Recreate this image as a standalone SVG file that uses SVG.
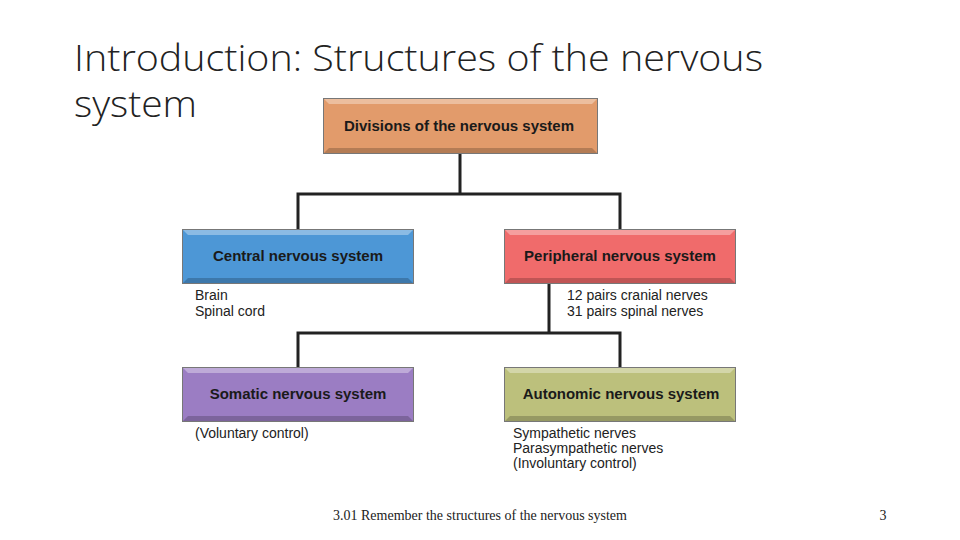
<svg xmlns="http://www.w3.org/2000/svg" width="960" height="540" viewBox="0 0 960 540">
<style>
.t{font-family:"Liberation Sans",Arial,sans-serif;font-weight:bold;font-size:15px;fill:#1a1a1a;text-anchor:middle}
.s{font-family:"Liberation Sans",Arial,sans-serif;font-size:14px;fill:#222}
.hl{fill:#fff;opacity:.35}
.sh{fill:#000;opacity:.2}
.bd{fill:none;stroke:#777;stroke-width:1}
.c{stroke:#222;stroke-width:3;fill:none}
</style>
<rect width="960" height="540" fill="#fff"/>
<text x="74" y="71" font-family="'Open Sans','Liberation Sans',sans-serif" font-size="36" fill="#222" font-weight="300" textLength="689" lengthAdjust="spacingAndGlyphs">Introduction: Structures of the nervous</text>
<text x="74" y="117" font-family="'Open Sans','Liberation Sans',sans-serif" font-size="36" fill="#222" font-weight="300" textLength="123" lengthAdjust="spacingAndGlyphs">system</text>
<g id="connectors">
<path class="c" d="M460 154V194M298 229V194H620V229"/>
<path class="c" d="M549 284V333M298 367V333H620V367"/>
</g>
<g id="divisions">
<rect x="323" y="98" width="275" height="56" fill="#e29b6b"/>
<polygon class="hl" points="323,98 598,98 592,104 329,104"/>
<polygon class="sh" points="323,154 598,154 592,148 329,148"/>
<rect class="bd" x="323.5" y="98.5" width="274" height="55"/>
<text class="t" x="459" y="131">Divisions of the nervous system</text>
</g>
<g id="cns">
<rect x="182" y="229" width="232" height="55" fill="#4d97d6"/>
<polygon class="hl" points="182,229 414,229 408,235 188,235"/>
<polygon class="sh" points="182,284 414,284 408,278 188,278"/>
<rect class="bd" x="182.5" y="229.5" width="231" height="54"/>
<text class="t" x="298" y="261">Central nervous system</text>
<text class="s" x="195" y="300">Brain</text>
<text class="s" x="195" y="316">Spinal cord</text>
</g>
<g id="pns">
<rect x="504" y="229" width="232" height="55" fill="#f06b6b"/>
<polygon class="hl" points="504,229 736,229 730,235 510,235"/>
<polygon class="sh" points="504,284 736,284 730,278 510,278"/>
<rect class="bd" x="504.5" y="229.5" width="231" height="54"/>
<text class="t" x="620" y="261">Peripheral nervous system</text>
<text class="s" x="567" y="300">12 pairs cranial nerves</text>
<text class="s" x="567" y="316">31 pairs spinal nerves</text>
</g>
<g id="somatic">
<rect x="182" y="367" width="232" height="55" fill="#9b7dc3"/>
<polygon class="hl" points="182,367 414,367 408,373 188,373"/>
<polygon class="sh" points="182,422 414,422 408,416 188,416"/>
<rect class="bd" x="182.5" y="367.5" width="231" height="54"/>
<text class="t" x="298" y="399">Somatic nervous system</text>
<text class="s" x="195" y="438">(Voluntary control)</text>
</g>
<g id="autonomic">
<rect x="504" y="367" width="232" height="55" fill="#bcc07c"/>
<polygon class="hl" points="504,367 736,367 730,373 510,373"/>
<polygon class="sh" points="504,422 736,422 730,416 510,416"/>
<rect class="bd" x="504.5" y="367.5" width="231" height="54"/>
<text class="t" x="621" y="399">Autonomic nervous system</text>
<text class="s" x="513" y="438">Sympathetic nerves</text>
<text class="s" x="513" y="453">Parasympathetic nerves</text>
<text class="s" x="513" y="468">(Involuntary control)</text>
</g>
<text x="480" y="520" font-family="'Liberation Serif',serif" font-size="14" fill="#222" text-anchor="middle">3.01 Remember the structures of the nervous system</text>
<text x="883" y="520" font-family="'Liberation Serif',serif" font-size="14" fill="#222" text-anchor="middle">3</text>
</svg>
